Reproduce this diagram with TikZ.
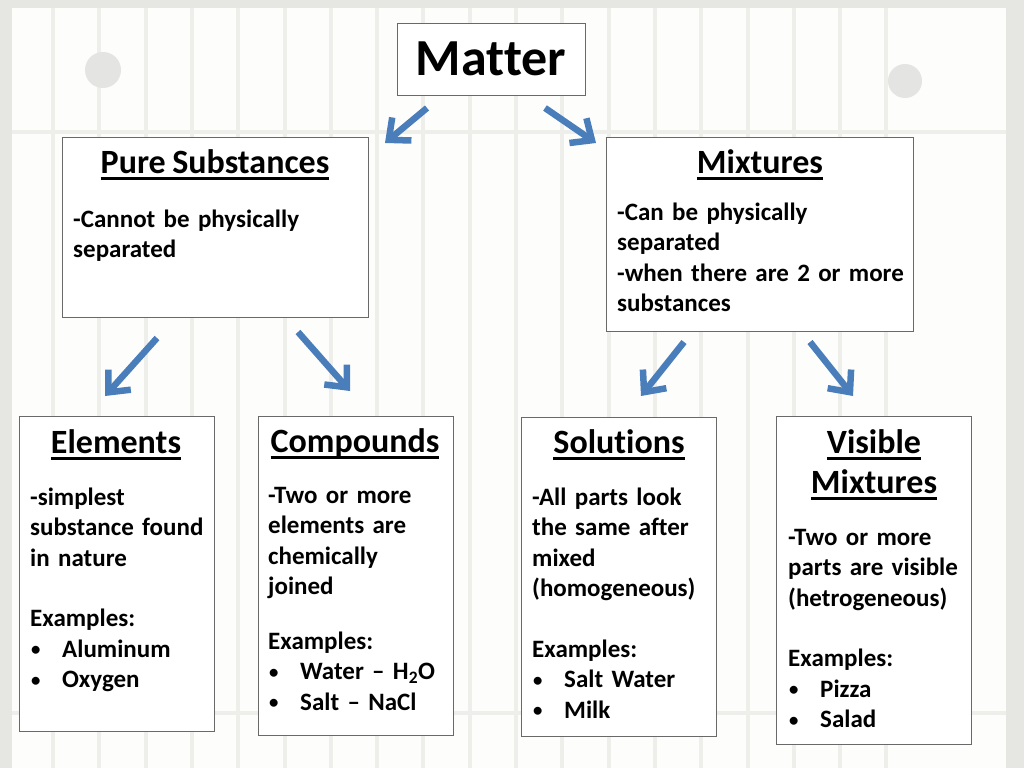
\documentclass[tikz,border=0pt]{standalone}
\usepackage{fontspec}
\setmainfont{Carlito}[Ligatures={TeX,NoCommon},WordSpace=0.85]
\usetikzlibrary{positioning,arrows.meta}

\definecolor{arrowblue}{RGB}{74,126,187}
\definecolor{paper}{RGB}{253,253,252}
\definecolor{paperline}{RGB}{238,238,235}
\definecolor{paperband}{RGB}{230,230,226}
\definecolor{paperdot}{RGB}{228,228,226}
\definecolor{boxline}{RGB}{105,105,105}

\newcommand{\bul}[1]{\makebox[32pt][l]{\hspace{1pt}\raisebox{1.5pt}{\scalebox{0.75}{\textbullet}}}#1}
\newcommand{\uln}[1]{\begingroup\setbox0\hbox{#1}\rlap{\rule[-7pt]{\wd0}{2.6pt}}\box0\endgroup}

\tikzset {
    style A/.style={
        fill=white,
        draw=boxline,
        line width=1.2pt,
        rectangle, % Set the shape as a rectangle
        anchor=north west,
        inner sep=0pt,
    },
    style B/.style={
        font=\fontsize{34}{40}\selectfont\bfseries,
        anchor=base,
        inner sep=0pt,
        align=center,
    },
    style C/.style={
        font=\fontsize{25}{30.5}\selectfont\bfseries,
        anchor=base west,
        inner sep=0pt,
        text width=190pt,
        align=left,
    },
    style D/.style={
        draw=arrowblue,
        line width=6.5pt,
        -{Straight Barb[length=17pt,width=30pt]},
    },
}

\begin{document}
\begin{tikzpicture}[x=1pt, y=-1pt]
\useasboundingbox (0,0) rectangle (1024,768);

% paper
\fill[paper] (0,0) rectangle (1024,768);
\foreach \i in {0,...,18}
    \draw[paperline, line width=4pt] ({53+46.3*\i},0) -- ({53+46.3*\i},768);
\draw[paperline, line width=4pt] (0,132) -- (1024,132);
\draw[paperline, line width=4pt] (0,713) -- (1024,713);
\fill[paperband] (0,0) rectangle (12,768);
\fill[paperband] (0,0) rectangle (1024,8);
\fill[paperband] (1006,0) rectangle (1024,768);
\fill[paperdot] (103,70) circle (18);
\fill[paperdot] (905,81) circle (17);

% boxes
\node[style A, minimum width=188, minimum height=72] (matter) at (397,23) {};
\node[style A, minimum width=306, minimum height=180] (pure) at (62,137) {};
\node[style A, minimum width=307, minimum height=194] (mix) at (606,137) {};
\node[style A, minimum width=195, minimum height=315] (elem) at (19,416) {};
\node[style A, minimum width=195, minimum height=319] (comp) at (258,416) {};
\node[style A, minimum width=195, minimum height=319] (sol) at (521,417) {};
\node[style A, minimum width=195, minimum height=328] (vis) at (776,416) {};

% titles
\node[style B, font=\fontsize{52}{60}\selectfont\bfseries] (matterT) at (491,75) {Matter};
\node[style B] (pureT) at (215,173) {\uln{Pure Substances}};
\node[style B] (mixT) at (760,173) {\uln{Mixtures}};
\node[style B] (elemT) at (116,453) {\uln{Elements}};
\node[style B] (compT) at (355,452) {\uln{Compounds}};
\node[style B] (solT) at (619,453) {\uln{Solutions}};
\node[style B] (visT) at (874,493) {\uln{Visible}\\\uln{Mixtures}};

% texts
\node[style C, text width=290pt] (pureB) at (73,227) {-Cannot be physically\\separated};
\node[style C, text width=300pt] (mixB) at (617,220) {-Can be physically\\separated\\-when there are 2 or more\\substances};
\node[style C] (elemB) at (30,505) {-simplest\\substance found\\in nature\\[30pt]Examples:\\\bul{Aluminum}\\\bul{Oxygen}};
\node[style C] (compB) at (268,503) {-Two or more\\elements are\\chemically\\joined\\[24pt]Examples:\\\bul{Water \textendash{} H\textsubscript{2}O}\\\bul{Salt \textendash{} NaCl}};
\node[style C] (solB) at (532,505) {-All parts look\\the same after\\mixed\\(homogeneous)\\[30pt]Examples:\\\bul{Salt Water}\\\bul{Milk}};
\node[style C] (visB) at (788,545) {-Two or more\\parts are visible\\(hetrogeneous)\\[30pt]Examples:\\\bul{Pizza}\\\bul{Salad}};

% arrows
\coordinate (m1s) at (427,108);
\coordinate (m1e) at (385,143);
\coordinate (m2s) at (545,108);
\coordinate (m2e) at (596,143);
\coordinate (p1s) at (157,338);
\coordinate (p1e) at (105,396);
\coordinate (p2s) at (298,332);
\coordinate (p2e) at (350,391);
\coordinate (x1s) at (684,342);
\coordinate (x1e) at (641,396);
\coordinate (x2s) at (810,342);
\coordinate (x2e) at (853,396);

\draw[style D] (m1s) -- (m1e);
\draw[style D] (m2s) -- (m2e);
\draw[style D] (p1s) -- (p1e);
\draw[style D] (p2s) -- (p2e);
\draw[style D] (x1s) -- (x1e);
\draw[style D] (x2s) -- (x2e);
\end{tikzpicture}
\end{document}
